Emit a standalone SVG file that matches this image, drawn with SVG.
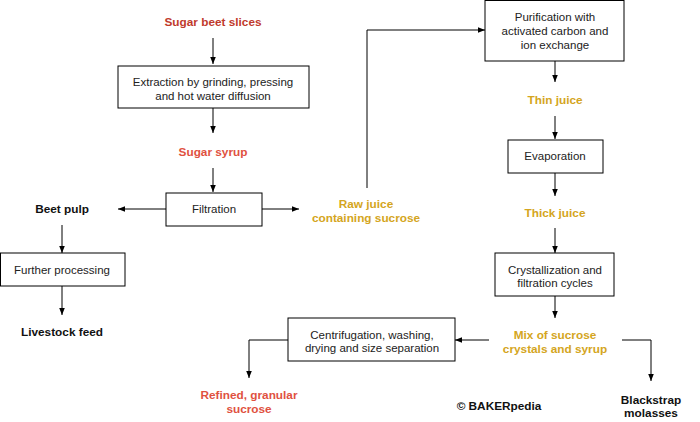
<svg xmlns="http://www.w3.org/2000/svg" width="700" height="422" viewBox="0 0 700 422">
<defs>
<marker id="ah" viewBox="0 0 10 10" refX="10" refY="5" markerWidth="7" markerHeight="7" markerUnits="userSpaceOnUse" orient="auto">
<path d="M0,1 L10,5 L0,9 Z" fill="#000"/>
</marker>
<style>
.box{fill:#fff;stroke:#000;stroke-width:1}
.t{font-family:"Liberation Sans",Arial,sans-serif;font-size:11.5px;fill:#222;text-anchor:middle}
.b{font-family:"Liberation Sans",Arial,sans-serif;font-size:11.8px;font-weight:bold;text-anchor:middle}
.red1{fill:#bf3a2c}
.red2{fill:#e0513f}
.gold{fill:#d4a521}
.blk{fill:#111}
.c{fill:none;stroke:#000;stroke-width:1;marker-end:url(#ah)}
</style>
</defs>
<rect width="700" height="422" fill="#fff"/>
<g id="connectors">
<path class="c" d="M213,38 V64"/>
<path class="c" d="M213,108 V133"/>
<path class="c" d="M213,168 V192"/>
<path class="c" d="M166,209 H118"/>
<path class="c" d="M262,209 H299"/>
<path class="c" d="M62,225 V253"/>
<path class="c" d="M62,286 V315"/>
<path class="c" d="M367,188 V30 H485"/>
<path class="c" d="M555,61 V82"/>
<path class="c" d="M555,116 V139"/>
<path class="c" d="M555,173 V196"/>
<path class="c" d="M555,228 V253"/>
<path class="c" d="M555,296 V318"/>
<path class="c" d="M489,340 H455"/>
<path class="c" d="M288,340 H249 V378"/>
<path class="c" d="M622,340 H651 V381"/>
</g>
<g id="sugar-beet-slices"><text class="b red1" x="213" y="26">Sugar beet slices</text></g>
<g id="extraction"><rect class="box" x="118" y="66" width="191" height="42"/><text class="t" x="213" y="86">Extraction by grinding, pressing</text><text class="t" x="213" y="100">and hot water diffusion</text></g>
<g id="sugar-syrup"><text class="b red2" x="213" y="156">Sugar syrup</text></g>
<g id="filtration"><rect class="box" x="166" y="193" width="96" height="33"/><text class="t" x="214" y="213">Filtration</text></g>
<g id="beet-pulp"><text class="b blk" x="62" y="213">Beet pulp</text></g>
<g id="further-processing"><rect class="box" x="0.5" y="253" width="124.5" height="33"/><text class="t" x="62" y="274">Further processing</text></g>
<g id="livestock-feed"><text class="b blk" x="62" y="336">Livestock feed</text></g>
<g id="raw-juice"><text class="b gold" x="366" y="208">Raw juice</text><text class="b gold" x="366" y="222">containing sucrose</text></g>
<g id="purification"><rect class="box" x="485" y="0.5" width="139" height="60.5"/><text class="t" x="555" y="21">Purification with</text><text class="t" x="555" y="35">activated carbon and</text><text class="t" x="555" y="49">ion exchange</text></g>
<g id="thin-juice"><text class="b gold" x="555" y="104">Thin juice</text></g>
<g id="evaporation"><rect class="box" x="508" y="140" width="95" height="33"/><text class="t" x="555" y="160">Evaporation</text></g>
<g id="thick-juice"><text class="b gold" x="555" y="217">Thick juice</text></g>
<g id="crystallization"><rect class="box" x="495" y="253" width="119" height="43"/><text class="t" x="555" y="274">Crystallization and</text><text class="t" x="555" y="287">filtration cycles</text></g>
<g id="mix"><text class="b gold" x="555" y="339">Mix of sucrose</text><text class="b gold" x="555" y="353">crystals and syrup</text></g>
<g id="centrifugation"><rect class="box" x="288" y="318" width="167" height="43"/><text class="t" x="372" y="339">Centrifugation, washing,</text><text class="t" x="372" y="352">drying and size separation</text></g>
<g id="refined-sucrose"><text class="b red2" x="249" y="399">Refined, granular</text><text class="b red2" x="249" y="413">sucrose</text></g>
<g id="blackstrap"><text class="b blk" x="651" y="404">Blackstrap</text><text class="b blk" x="651" y="417">molasses</text></g>
<g id="copyright"><text class="b blk" x="499" y="410">© BAKERpedia</text></g>
</svg>
